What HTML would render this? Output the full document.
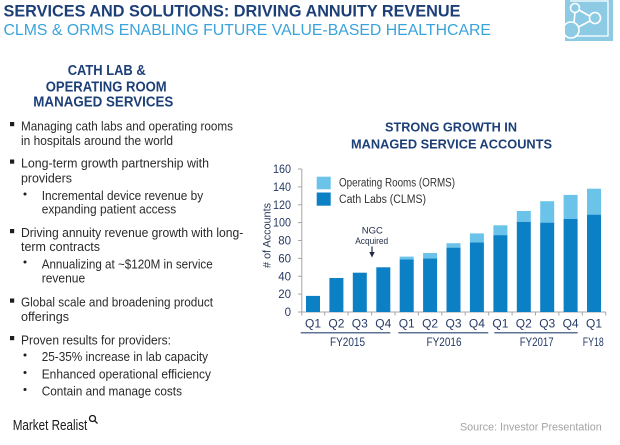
<!DOCTYPE html>
<html><head><meta charset="utf-8"><style>
html,body{margin:0;padding:0;background:#fff;}
svg{display:block;}
text{font-family:"Liberation Sans",sans-serif;}
</style></head><body>
<svg width="620" height="445" viewBox="0 0 620 445" xmlns="http://www.w3.org/2000/svg">
<rect width="620" height="445" fill="#fff"/>
<!-- header -->
<text x="3.5" y="16.7" font-size="17" font-weight="bold" fill="#1d3f78" textLength="457" lengthAdjust="spacingAndGlyphs">SERVICES AND SOLUTIONS: DRIVING ANNUITY REVENUE</text>
<text x="3.5" y="35" font-size="16" fill="#3aa3db" textLength="487.5" lengthAdjust="spacingAndGlyphs">CLMS &amp; ORMS ENABLING FUTURE VALUE-BASED HEALTHCARE</text>
<!-- logo -->
<rect x="565" y="0" width="48" height="41" fill="#8dcbe5"/>
<path d="M570 1 L608 1 L608 36 L575 36" fill="none" stroke="#fff" stroke-width="1.3"/>
<g fill="none" stroke="#fff" stroke-width="1.6">
<circle cx="575" cy="8" r="4.5"/>
<circle cx="595" cy="18" r="5.5"/>
<circle cx="571" cy="30" r="8"/>
<line x1="579" y1="10" x2="589.5" y2="16"/>
<line x1="575" y1="12.5" x2="574" y2="22.5"/>
<line x1="590" y1="21" x2="578.5" y2="27"/>
</g>
<!-- left heading -->
<g font-weight="bold" font-size="14.5" fill="#1d3f78">
<text x="67.7" y="75" textLength="78" lengthAdjust="spacingAndGlyphs">CATH LAB &amp;</text>
<text x="45.7" y="91.7" textLength="121" lengthAdjust="spacingAndGlyphs">OPERATING ROOM</text>
<text x="33.3" y="106.7" textLength="140" lengthAdjust="spacingAndGlyphs">MANAGED SERVICES</text>
</g>
<!-- bullets -->
<g fill="#1e1e1e">
<rect x="10" y="122" width="4.2" height="4.2"/>
<rect x="10" y="159.5" width="4.2" height="4.2"/>
<rect x="10" y="229" width="4.2" height="4.2"/>
<rect x="10" y="298.5" width="4.2" height="4.2"/>
<rect x="10" y="336" width="4.2" height="4.2"/>
<circle cx="25" cy="194" r="1.5"/>
<circle cx="25" cy="262" r="1.5"/>
<circle cx="25" cy="355" r="1.5"/>
<circle cx="25" cy="372.5" r="1.5"/>
<circle cx="25" cy="389.5" r="1.5"/>
</g>
<g font-size="12.5" fill="#2a2a2a">
<text x="21" y="130.5" textLength="212" lengthAdjust="spacingAndGlyphs">Managing cath labs and operating rooms</text>
<text x="21" y="145" textLength="152" lengthAdjust="spacingAndGlyphs">in hospitals around the world</text>
<text x="21" y="167.5" textLength="188" lengthAdjust="spacingAndGlyphs">Long-term growth partnership with</text>
<text x="21" y="182.5" textLength="51" lengthAdjust="spacingAndGlyphs">providers</text>
<text x="41.7" y="200" textLength="161.5" lengthAdjust="spacingAndGlyphs">Incremental device revenue by</text>
<text x="41.7" y="213.5" textLength="134.5" lengthAdjust="spacingAndGlyphs">expanding patient access</text>
<text x="21" y="237" textLength="222.3" lengthAdjust="spacingAndGlyphs">Driving annuity revenue growth with long-</text>
<text x="21" y="251" textLength="79" lengthAdjust="spacingAndGlyphs">term contracts</text>
<text x="41.7" y="268.3" textLength="171" lengthAdjust="spacingAndGlyphs">Annualizing at ~$120M in service</text>
<text x="41.7" y="282.5" textLength="43.5" lengthAdjust="spacingAndGlyphs">revenue</text>
<text x="21" y="306.5" textLength="192" lengthAdjust="spacingAndGlyphs">Global scale and broadening product</text>
<text x="21" y="321" textLength="48" lengthAdjust="spacingAndGlyphs">offerings</text>
<text x="21" y="344.3" textLength="150" lengthAdjust="spacingAndGlyphs">Proven results for providers:</text>
<text x="41.7" y="361" textLength="166.3" lengthAdjust="spacingAndGlyphs">25-35% increase in lab capacity</text>
<text x="41.7" y="378.3" textLength="169.3" lengthAdjust="spacingAndGlyphs">Enhanced operational efficiency</text>
<text x="41.7" y="395.3" textLength="140.3" lengthAdjust="spacingAndGlyphs">Contain and manage costs</text>
</g>
<!-- Market Realist -->
<text x="12.7" y="430" font-size="14.5" fill="#1a1a1a" textLength="74.6" lengthAdjust="spacingAndGlyphs">Market Realist</text>
<g fill="none" stroke="#1a1a1a" stroke-width="1.3">
<circle cx="92.5" cy="418.5" r="3"/>
<line x1="94.7" y1="420.7" x2="97.5" y2="423.5"/>
</g>
<!-- source -->
<text x="460" y="430.5" font-size="11" fill="#a3a3a3" textLength="141.7" lengthAdjust="spacingAndGlyphs">Source: Investor Presentation</text>
<!-- chart title -->
<g font-weight="bold" font-size="12.5" fill="#1d3f78">
<text x="385" y="131.7" textLength="132" lengthAdjust="spacingAndGlyphs">STRONG GROWTH IN</text>
<text x="351" y="148.3" textLength="201" lengthAdjust="spacingAndGlyphs">MANAGED SERVICE ACCOUNTS</text>
</g>
<!-- y axis title -->
<text transform="translate(270.5,235.5) rotate(-90)" text-anchor="middle" font-size="11" fill="#2a3a5e" textLength="65" lengthAdjust="spacingAndGlyphs"># of Accounts</text>
<!-- y tick labels -->
<g font-size="11.5" fill="#253a66" text-anchor="end">
<text x="291" y="316">0</text>
<text x="291" y="298.1">20</text>
<text x="291" y="280.3">40</text>
<text x="291" y="262.4">60</text>
<text x="291" y="244.5">80</text>
<text x="291" y="226.6" textLength="18" lengthAdjust="spacingAndGlyphs">100</text>
<text x="291" y="208.8" textLength="18" lengthAdjust="spacingAndGlyphs">120</text>
<text x="291" y="190.9" textLength="18" lengthAdjust="spacingAndGlyphs">140</text>
<text x="291" y="173" textLength="18" lengthAdjust="spacingAndGlyphs">160</text>
</g>
<!-- axes -->
<g stroke="#a6a6a6" stroke-width="1">
<line x1="301.8" y1="169" x2="301.8" y2="312"/>
<line x1="301.8" y1="312" x2="605.7" y2="312"/>
<line x1="298" y1="312" x2="301.8" y2="312"/>
<line x1="298" y1="294.1" x2="301.8" y2="294.1"/>
<line x1="298" y1="276.25" x2="301.8" y2="276.25"/>
<line x1="298" y1="258.4" x2="301.8" y2="258.4"/>
<line x1="298" y1="240.5" x2="301.8" y2="240.5"/>
<line x1="298" y1="222.6" x2="301.8" y2="222.6"/>
<line x1="298" y1="204.75" x2="301.8" y2="204.75"/>
<line x1="298" y1="186.9" x2="301.8" y2="186.9"/>
<line x1="298" y1="169" x2="301.8" y2="169"/>
<line x1="301.8" y1="312" x2="301.8" y2="315.5"/>
<line x1="324.7" y1="312" x2="324.7" y2="315.5"/>
<line x1="348.1" y1="312" x2="348.1" y2="315.5"/>
<line x1="371.6" y1="312" x2="371.6" y2="315.5"/>
<line x1="395" y1="312" x2="395" y2="315.5"/>
<line x1="418.4" y1="312" x2="418.4" y2="315.5"/>
<line x1="441.8" y1="312" x2="441.8" y2="315.5"/>
<line x1="465.2" y1="312" x2="465.2" y2="315.5"/>
<line x1="488.7" y1="312" x2="488.7" y2="315.5"/>
<line x1="512.1" y1="312" x2="512.1" y2="315.5"/>
<line x1="535.5" y1="312" x2="535.5" y2="315.5"/>
<line x1="558.9" y1="312" x2="558.9" y2="315.5"/>
<line x1="582.3" y1="312" x2="582.3" y2="315.5"/>
<line x1="605.7" y1="312" x2="605.7" y2="315.5"/>
</g>
<!-- CLMS bars -->
<g fill="#0b80c5">
<rect x="306" y="295.9" width="14" height="16.1"/>
<rect x="329.4" y="278" width="14" height="34"/>
<rect x="352.8" y="272.7" width="14" height="39.3"/>
<rect x="376.3" y="267.3" width="14" height="44.7"/>
<rect x="399.7" y="259.3" width="14" height="52.7"/>
<rect x="423.1" y="258.4" width="14" height="53.6"/>
<rect x="446.5" y="247.6" width="14" height="64.4"/>
<rect x="469.9" y="242.3" width="14" height="69.7"/>
<rect x="493.4" y="235.1" width="14" height="76.9"/>
<rect x="516.8" y="221.7" width="14" height="90.3"/>
<rect x="540.2" y="222.6" width="14" height="89.4"/>
<rect x="563.6" y="219" width="14" height="93"/>
<rect x="587" y="214.6" width="14" height="97.4"/>
</g>
<!-- ORMS bars -->
<g fill="#6cc3ea">
<rect x="399.7" y="256.6" width="14" height="2.7"/>
<rect x="423.1" y="253" width="14" height="5.4"/>
<rect x="446.5" y="243.2" width="14" height="4.4"/>
<rect x="469.9" y="233.4" width="14" height="8.9"/>
<rect x="493.4" y="225.3" width="14" height="9.8"/>
<rect x="516.8" y="211" width="14" height="10.7"/>
<rect x="540.2" y="201.2" width="14" height="21.4"/>
<rect x="563.6" y="194.9" width="14" height="24.1"/>
<rect x="587" y="188.7" width="14" height="25.9"/>
</g>
<!-- legend -->
<rect x="316.7" y="176.7" width="14" height="12.6" fill="#6cc3ea"/>
<rect x="316.7" y="192.5" width="14" height="13.2" fill="#0b80c5"/>
<g font-size="11.5" fill="#333">
<text x="339" y="186.7" textLength="116" lengthAdjust="spacingAndGlyphs">Operating Rooms (ORMS)</text>
<text x="339" y="203" textLength="87" lengthAdjust="spacingAndGlyphs">Cath Labs (CLMS)</text>
</g>
<!-- NGC annotation -->
<g font-size="9.5" fill="#222d4a" text-anchor="middle">
<text x="372.3" y="233.5">NGC</text>
<text x="371.7" y="244" textLength="33" lengthAdjust="spacingAndGlyphs">Acquired</text>
</g>
<line x1="372" y1="246.5" x2="372" y2="253" stroke="#1e2a48" stroke-width="1.2"/>
<path d="M369.3 252 L374.7 252 L372 257.5 Z" fill="#1e2a48"/>
<!-- x labels -->
<g font-size="12" fill="#253a66" text-anchor="middle">
<text x="313" y="327.5">Q1</text>
<text x="336.4" y="327.5">Q2</text>
<text x="359.8" y="327.5">Q3</text>
<text x="383.3" y="327.5">Q4</text>
<text x="406.7" y="327.5">Q1</text>
<text x="430.1" y="327.5">Q2</text>
<text x="453.5" y="327.5">Q3</text>
<text x="476.9" y="327.5">Q4</text>
<text x="500.4" y="327.5">Q1</text>
<text x="523.8" y="327.5">Q2</text>
<text x="547.2" y="327.5">Q3</text>
<text x="570.6" y="327.5">Q4</text>
<text x="594" y="327.5">Q1</text>
<text x="347.5" y="346" textLength="35" lengthAdjust="spacingAndGlyphs">FY2015</text>
<text x="444" y="346" textLength="35" lengthAdjust="spacingAndGlyphs">FY2016</text>
<text x="536.7" y="346" textLength="34" lengthAdjust="spacingAndGlyphs">FY2017</text>
<text x="593.3" y="346" textLength="21" lengthAdjust="spacingAndGlyphs">FY18</text>
</g>
<g stroke="#5f7394" stroke-width="1.5">
<line x1="300.7" y1="332.7" x2="390.3" y2="332.7"/>
<line x1="398.3" y1="332.7" x2="488.3" y2="332.7"/>
<line x1="494.3" y1="332.7" x2="577.7" y2="332.7"/>
</g>
</svg>
</body></html>
